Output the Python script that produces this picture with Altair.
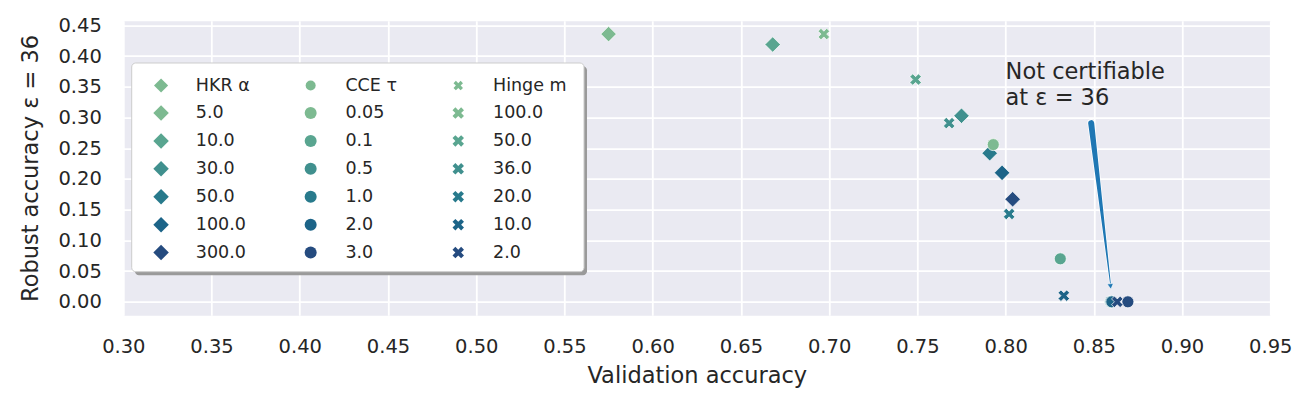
import altair as alt
import pandas as pd

# ---------------- data ----------------
hkr_alpha = ["5.0", "10.0", "30.0", "50.0", "100.0", "300.0"]
hkr_val = [0.575, 0.668, 0.775, 0.791, 0.798, 0.804]
hkr_rob = [0.436, 0.419, 0.303, 0.242, 0.210, 0.167]

cce_tau = ["0.05", "0.1", "0.5", "1.0", "2.0", "3.0"]
cce_val = [0.793, 0.831, 0.8595, 0.8598, 0.8602, 0.8693]
cce_rob = [0.256, 0.070, 0.0, 0.0, 0.0, 0.0]

hinge_m = ["100.0", "50.0", "36.0", "20.0", "10.0", "2.0"]
hinge_val = [0.697, 0.749, 0.768, 0.802, 0.833, 0.8633]
hinge_rob = [0.436, 0.362, 0.291, 0.143, 0.010, 0.0]

x_ticks = [0.30, 0.35, 0.40, 0.45, 0.50, 0.55, 0.60, 0.65, 0.70, 0.75, 0.80, 0.85, 0.90, 0.95]
y_ticks = [0.00, 0.05, 0.10, 0.15, 0.20, 0.25, 0.30, 0.35, 0.40, 0.45]

annot_text = ["Not certifiable\nat ε = 36"]
annot_x = [0.80]
annot_y = [0.3632]
arrow_x = [0.8485, 0.8594]
arrow_y = [0.291, 0.030]
head_x = [0.8595]
head_y = [0.025]

# ---------------- styles ----------------
crest = ["#7dba91", "#59a590", "#40908e", "#287a8c", "#1c6488", "#254b7f"]
X_PATH = "M-1,-0.5L-0.5,-1L0,-0.5L0.5,-1L1,-0.5L0.5,0L1,0.5L0.5,1L0,0.5L-0.5,1L-1,0.5L-0.5,0Z"
TXT = "#262626"
FONT = "DejaVu Sans"

groups = [
    ("HKR", "HKR α", hkr_alpha, hkr_val, hkr_rob, "diamond", 240, 200),
    ("CCE", "CCE τ", cce_tau, cce_val, cce_rob, "circle", 144, 100),
    ("Hinge", "Hinge m", hinge_m, hinge_val, hinge_rob, X_PATH, 132, 90),
]

rows = []
for g, header, labs, vals, robs, shp, sz, hsz in groups:
    for lab, v, r in zip(labs, vals, robs):
        rows.append({"key": f"{g}|{lab}", "val": v, "rob": r})
df = pd.DataFrame(rows)

# legend entries, column by column (header first)
domain, crange, srange, zrange = [], [], [], []
for g, header, labs, vals, robs, shp, sz, hsz in groups:
    domain.append(header)
    crange.append(crest[0])
    srange.append(shp)
    zrange.append(hsz)
    for i, lab in enumerate(labs):
        domain.append(f"{g}|{lab}")
        crange.append(crest[i])
        srange.append(shp)
        zrange.append(sz)

leg = alt.Legend(
    orient="none", legendX=29, legendY=55.7, columns=3, columnPadding=51.6,
    rowPadding=8.9, labelOffset=26, gridAlign="each", labelFont=FONT,
    labelFontSize=17.5, labelColor=TXT, symbolStrokeWidth=0, symbolOpacity=1,
    padding=0,
    labelExpr="indexof(datum.label, '|') >= 0 ? split(datum.label, '|')[1] : datum.label",
)

X = alt.X("val:Q", scale=alt.Scale(domain=[0.30, 0.95], nice=False, zero=False),
          axis=alt.Axis(values=x_ticks, format=".2f", title="Validation accuracy", labelFlush=False))
Y = alt.Y("rob:Q", scale=alt.Scale(domain=[-0.0218, 0.4578], nice=False, zero=False),
          axis=alt.Axis(values=y_ticks, format=".2f", title="Robust accuracy ε = 36", labelFlush=False))

points = alt.Chart(df).mark_point(filled=True, opacity=1, stroke="white", strokeWidth=0.7).encode(
    x=X, y=Y,
    color=alt.Color("key:N", scale=alt.Scale(domain=domain, range=crange), legend=leg, title=None),
    shape=alt.Shape("key:N", scale=alt.Scale(domain=domain, range=srange), legend=leg, title=None),
    size=alt.Size("key:N", scale=alt.Scale(type="ordinal", domain=domain, range=zrange), legend=leg, title=None),
)

arrow_df = pd.DataFrame({"val": arrow_x, "rob": arrow_y})
arrow_df["w_white"] = [7.6, 2.2]
arrow_df["w_blue"] = [6.0, 0.8]
trail_white = alt.Chart(arrow_df).mark_trail(color="white").encode(
    x=X, y=Y, size=alt.Size("w_white:Q", scale=None))
trail_blue = alt.Chart(arrow_df).mark_trail(color="#1f77b4").encode(
    x=X, y=Y, size=alt.Size("w_blue:Q", scale=None))
head = alt.Chart(pd.DataFrame({"val": head_x, "rob": head_y})).mark_point(
    shape="triangle-down", filled=True, opacity=1, color="#1f77b4", size=40,
    angle=353, stroke="white", strokeWidth=0.6).encode(x=X, y=Y)

text = alt.Chart(pd.DataFrame({"val": annot_x, "rob": annot_y, "t": annot_text})).mark_text(
    align="left", baseline="alphabetic", font=FONT, fontSize=22.5, color=TXT,
    lineBreak="\n", lineHeight=26.7).encode(x=X, y=Y, text="t:N")

one = pd.DataFrame({"a": [0]})
shadow = alt.Chart(one).mark_rect(fill="#9a9a9a", cornerRadius=4).encode(
    x=alt.value(11.6), x2=alt.value(463.7), y=alt.value(45.5), y2=alt.value(254.5))
box = alt.Chart(one).mark_rect(fill="white", stroke="#cccccc", strokeWidth=1, cornerRadius=4).encode(
    x=alt.value(8.4), x2=alt.value(460.7), y=alt.value(42.3), y2=alt.value(251))

chart = alt.layer(points, trail_white, trail_blue, head, text, shadow, box).properties(
    width=1147, height=294.5,
    autosize=alt.AutoSizeParams(type="none"),
    padding={"left": 115.3, "top": 12.7, "right": 30, "bottom": 85},
    background="white",
).configure_axis(
    grid=True, gridColor="white", gridWidth=1.8, domain=False, ticks=False,
    labelFont=FONT, labelFontSize=19.5, labelColor=TXT, labelPadding=22,
    titleFont=FONT, titleFontSize=22.5, titleColor=TXT, titleFontWeight="normal",
).configure_axisX(titlePadding=9).configure_axisY(titlePadding=15).configure_view(
    fill="#EAEAF2", stroke="transparent")

chart.save("out.html", embed_options={"renderer": "svg", "actions": False})
